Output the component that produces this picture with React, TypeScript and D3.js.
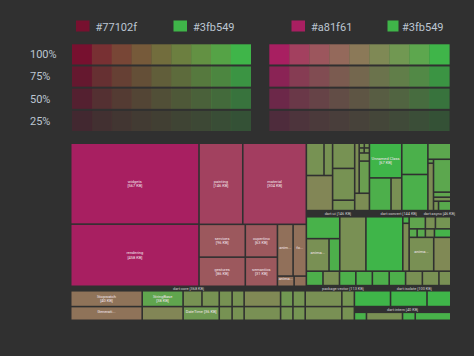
import React from 'react';
import * as d3 from 'd3';

const W = 474;
const H = 356;
const BG = '#303030';
const TEXT = '#bcc6d2';

// ---------- legend / opacity grid data ----------
const legendPairs: [string, string][] = [
  ['#77102f', '#3fb549'],
  ['#a81f61', '#3fb549'],
];
const opacityLabels = ['100%', '75%', '50%', '25%'];
const opacityValues = [1, 0.75, 0.5, 0.25];
const stepIndex = [0, 1, 2, 3, 4, 5, 6, 7, 8];

// ---------- treemap data (value = relative area, t = position on magenta→green ramp) ----------
type N = { name?: string; value?: number; t?: number; size?: string; dir?: 'h' | 'v'; strip?: boolean; labels?: string[]; children?: N[] };
const L = (name: string, value: number, t: number, size?: string): N => ({ name, value, t, size });
const G = (dir: 'h' | 'v', children: N[]): N => ({ dir, children });
const S = (value: number, labels: string[]): N => ({ strip: true, value, labels });

const flutterLeft = [L('widgets', 10250, 0, '[567 KB]'), L('rendering', 7872, 0, '[458 KB]')];
const flutterTop = [L('painting', 3505, 0.13, '[146 KB]'), L('material', 5089, 0.11, '[304 KB]')];
const flutterMid1 = [L('services', 1498, 0.26, '[96 KB]'), L('gestures', 1332, 0.26, '[86 KB]')];
const flutterMid2 = [L('cupertino', 1040, 0.26, '[63 KB]'), L('semantics', 925, 0.26, '[31 KB]')];
const flutterSmallTop = [L('anim...', 800, 0.43), L('fo...', 677, 0.43)];
const flutterSmallBottom = [L('anima...', 168, 0.43), L('', 123, 0.43)];

const uiColA = [G('h', [L('', 563, 0.7), L('', 274, 0.7)]), L('', 910, 0.6)];
const uiColB = [L('', 550, 0.7), L('', 693, 0.7), L('', 227, 0.7)];
const uiColCRight = [G('h', [L('', 24, 0.72), L('', 24, 0.72)]), G('h', [L('', 25, 0.72), L('', 26, 0.72)]), L('', 82, 0.72), L('', 325, 0.8)];
const convertLeft = [L('Unnamed Class', 1108, 1, '[67 KB]'), G('h', [L('', 697, 0.95), L('', 347, 0.68)])];
const convertRight = [L('', 806, 0.96), L('', 931, 0.96)];
const asyncThin = [L('', 22, 0.85), L('', 263, 0.66)];
const asyncRight = [L('', 561, 0.88), L('', 86, 0.86), L('', 69, 0.7), G('h', [L('', 46.5, 0.7), L('', 113.5, 0.9)])];

const vectorTop = [L('', 723, 0.97), G('h', [L('anima...', 728, 0.68), L('', 345, 0.95)])];
const clusterTop = [
  G('v', [L('', 194, 0.86), G('h', [L('', 67, 0.9), L('', 69, 0.9)])]),
  G('v', [G('h', [L('', 120, 0.68), L('', 184, 0.72)]), G('h', [L('', 76, 0.72), L('', 137, 0.98)])]),
];
const clusterBottom = [L('anima...', 821, 0.68), L('', 570, 0.62)];
const lowerRowValues = [237, 235, 233, 235, 240, 233, 239, 236, 169];
const lowerRowTones = [0.95, 0.68, 0.95, 0.95, 0.95, 0.95, 0.68, 0.68, 0.68];

const coreCols = [
  G('v', [L('Stopwatch', 1118, 0.45, '[40 KB]'), L('Generati...', 968, 0.45)]),
  G('v', [L('StringBase', 639, 0.86, '[38 KB]'), L('', 554, 0.6)]),
  G('v', [G('h', [L('', 295, 0.7), L('', 270, 0.7)]), L('DateTime [36 KB]', 490, 0.76)]),
  G('v', [G('h', [L('', 201, 0.7), L('', 188, 0.7)]), G('h', [L('', 174, 0.7), L('', 163, 0.7)])]),
  G('v', [L('', 570, 0.62), L('', 494, 0.68)]),
  G('v', [G('h', [L('', 193, 0.75), L('', 192, 0.72)]), G('h', [L('', 167, 0.72), L('', 166, 0.72)])]),
  G('v', [G('h', [L('', 573, 0.68), L('', 196, 0.72)]), G('h', [L('', 496, 0.68), L('', 170, 0.7)])]),
];
const internTop = [L('', 565, 1), L('', 570, 1), L('', 372, 1)];
const internBottom = [L('', 95, 0.97), L('', 284, 0.68), L('', 100, 0.97), L('', 280, 0.97)];

const groupLabels = {
  flutter: 'dart:core [368 KB]',
  ui: 'dart:ui [146 KB]',
  convert: 'dart:convert [144 KB]',
  async: 'dart:async [46 KB]',
  lower: ['package:vector [113 KB]', 'dart:isolate [100 KB]'],
  intern: 'dart:intern [40 KB]',
};

const tree: N = G('v', [
  G('h', [
    G('v', [
      G('h', [
        G('v', flutterLeft),
        G('v', [
          G('h', flutterTop),
          G('h', [G('v', flutterMid1), G('v', flutterMid2), G('v', [G('h', flutterSmallTop), G('h', flutterSmallBottom)])]),
        ]),
      ]),
      S(1033, [groupLabels.flutter]),
    ]),
    G('v', [
      G('h', [
        G('v', [G('h', [G('v', uiColA), G('v', uiColB), G('v', [G('h', [L('', 221, 0.66), G('v', uiColCRight)]), L('', 252, 0.66)])]), S(383, [groupLabels.ui])]),
        G('v', [G('h', [G('v', convertLeft), G('v', convertRight)]), S(355, [groupLabels.convert])]),
        G('v', [G('v', [L('', 363, 0.88), G('h', [G('v', asyncThin), G('v', asyncRight)])]), S(139, [groupLabels.async])]),
      ]),
      G('v', [
        G('h', [
          G('v', vectorTop),
          L('', 1404, 0.68),
          L('', 1982, 1),
          G('v', [L('', 41, 0.95), L('', 299, 0.66)]),
          G('v', [G('h', clusterTop), G('h', clusterBottom)]),
        ]),
        G('h', lowerRowValues.map((v, i) => L('', v, lowerRowTones[i]))),
        S(733, groupLabels.lower),
      ]),
    ]),
  ]),
  G('h', [
    G('h', coreCols),
    G('v', [G('v', [G('h', internTop), S(547, [groupLabels.intern])]), G('h', internBottom)]),
  ]),
]);

const ramp = d3.interpolateLab('#a81f61', '#3fb549');

export default function App() {
  const tx = 71.5;
  const ty = 144;
  const tile = (node: any, x0: number, y0: number, x1: number, y1: number) =>
    (node.data.dir === 'v' ? d3.treemapSlice : d3.treemapDice)(node, x0, y0, x1, y1);
  const root = d3.hierarchy<N>(tree).sum((d) => (d.children ? 0 : d.value || 0));
  d3.treemap<N>().tile(tile).size([378.5, 175.5]).paddingInner(1.6).round(false)(root);
  const leaves = root.leaves() as d3.HierarchyRectangularNode<N>[];

  const rowScale = d3.scaleBand<string>().domain(opacityLabels).range([44.3, 131]).paddingInner(0.09);
  const blockRanges: [number, number][] = [
    [72, 250.7],
    [269.3, 449.3],
  ];
  const swatchX = [
    [76, 173.5],
    [291.5, 387.5],
  ];

  return (
    <div style={{ position: 'absolute', left: 0, top: 0, width: W, height: H, background: BG }}>
      <svg width={W} height={H} style={{ display: 'block' }} fontFamily="Roboto, 'Open Sans', sans-serif">
        <rect width={W} height={H} fill={BG} />
        {legendPairs.map((pair, bi) => {
          const xs = d3.scaleBand<number>().domain(stepIndex).range(blockRanges[bi]).padding(0);
          const interp = d3.interpolateLab(pair[0], pair[1]);
          return (
            <g key={bi}>
              {pair.map((c, ci) => (
                <g key={ci}>
                  <rect x={swatchX[bi][ci]} y={20.5} width={bi === 1 && ci === 1 ? 11 : 13.5} height={11} fill={c} />
                  <text x={swatchX[bi][ci] + (bi === 1 && ci === 1 ? 14.5 : 19.5)} y={30.7} fontSize={11} fill={TEXT}>
                    {c}
                  </text>
                </g>
              ))}
              {opacityLabels.map((lab, ri) =>
                stepIndex.map((s) => (
                  <rect
                    key={lab + s}
                    x={xs(s)}
                    y={rowScale(lab)}
                    width={xs.bandwidth() + 0.3}
                    height={rowScale.bandwidth()}
                    fill={interp(s / (stepIndex.length - 1))}
                    fillOpacity={opacityValues[ri]}
                  />
                ))
              )}
            </g>
          );
        })}
        {opacityLabels.map((lab) => (
          <text key={lab} x={30} y={(rowScale(lab) || 0) + rowScale.bandwidth() / 2 + 3.9} fontSize={11} fill={TEXT}>
            {lab}
          </text>
        ))}
        <g transform={`translate(${tx},${ty})`}>
          {leaves.map((n, i) => {
            const w = n.x1 - n.x0;
            const h = n.y1 - n.y0;
            const cx = (n.x0 + n.x1) / 2;
            const cy = (n.y0 + n.y1) / 2;
            if (n.data.strip) {
              const labs = n.data.labels || [];
              return (
                <g key={i}>
                  {labs.map((t, k) => (
                    <text key={k} x={n.x0 + (w * (k + 0.5)) / labs.length} y={cy + 1.4} fontSize={3.9} textAnchor="middle" fill="#d0d0d0">
                      {t}
                    </text>
                  ))}
                </g>
              );
            }
            return (
              <g key={i}>
                <rect x={n.x0} y={n.y0} width={Math.max(0, w)} height={Math.max(0, h)} fill={ramp(n.data.t || 0)} />
                {n.data.name ? (
                  <text x={cx} y={cy - 2.3 + 1.4} fontSize={4} textAnchor="middle" fill="#f3e6ec">
                    {n.data.name}
                  </text>
                ) : null}
                {n.data.size ? (
                  <text x={cx} y={cy + 2.3 + 1.4} fontSize={4} textAnchor="middle" fill="#f3e6ec">
                    {n.data.size}
                  </text>
                ) : null}
              </g>
            );
          })}
        </g>
      </svg>
    </div>
  );
}
